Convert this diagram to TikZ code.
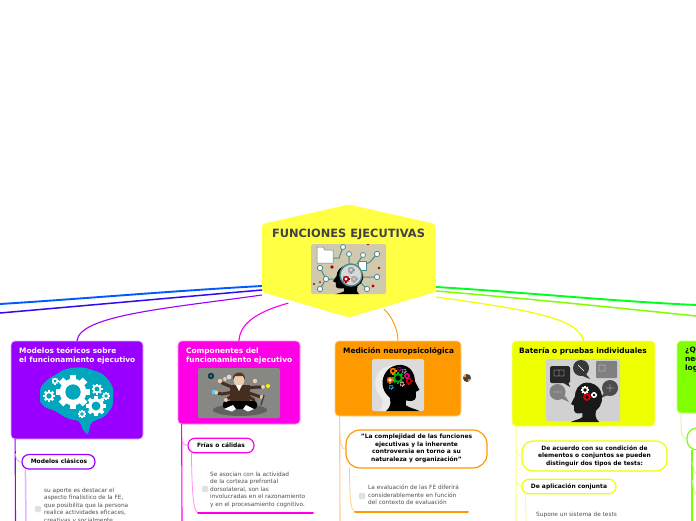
\documentclass[tikz,border=0pt]{standalone}
\usepackage{fontspec}
\setmainfont{DejaVu Sans}
\definecolor{cPur}{HTML}{9900FF}
\definecolor{cPurL}{HTML}{E0B8FF}
\definecolor{cMag}{HTML}{FF00E6}
\definecolor{cMagL}{HTML}{FF90F2}
\definecolor{cOra}{HTML}{FF9900}
\definecolor{cOraL}{HTML}{FFCF88}
\definecolor{cYel}{HTML}{EEFF00}
\definecolor{cYelL}{HTML}{F8FF88}
\definecolor{cLim}{HTML}{80FF00}
\definecolor{cLimL}{HTML}{C4FF88}
\definecolor{cHub}{HTML}{FFFF44}
\definecolor{cTxt}{HTML}{505050}
\definecolor{cTeal}{HTML}{00A5BE}
\definecolor{cTeal2}{HTML}{4E8A8E}
\definecolor{cBlu}{HTML}{005AFF}
\definecolor{cInd}{HTML}{320AF0}
\definecolor{cGrn}{HTML}{00FF1E}
\definecolor{cBrn}{HTML}{462D20}
\definecolor{cSkin}{HTML}{EBCDAF}
\definecolor{cHair}{HTML}{5A3723}
\definecolor{cTan}{HTML}{D0C9AE}
\definecolor{cGreyA}{HTML}{878784}
\definecolor{cTitle}{HTML}{424246}
\definecolor{cDkT}{HTML}{143C46}
\tikzset{
 mainbox/.style={rectangle,rounded corners=4pt,inner sep=0pt,line width=.7pt},
 subbox/.style={rectangle,rounded corners=7pt,inner sep=0pt,fill=white,line width=1.2pt},
 headtxt/.style={inner sep=0pt,anchor=north west,align=left,font=\bfseries\fontsize{7.4}{9.1}\selectfont},
 subtxt/.style={inner sep=0pt,align=center,font=\bfseries\fontsize{5.95}{7.5}\selectfont,text=black},
 bodytxt/.style={inner sep=0pt,anchor=north west,align=left,font=\fontsize{5.8}{7.35}\selectfont,text=cTxt},
 chk/.style={rectangle,rounded corners=1.2pt,minimum size=6pt,inner sep=0pt,fill=black!12,draw=black!8},
 imgbox/.style={rectangle,rounded corners=1.5pt,inner sep=0pt},
 link/.style={line cap=round}
}
\newcommand{\gearat}[5]{%
 \foreach \a in {0,45,...,315}{\draw[#4,line width={#3*0.38pt}] (#1,#2) -- ++(\a:#3);}
 \fill[#4] (#1,#2) circle[radius=#3*0.78];
 \fill[#5] (#1,#2) circle[radius=#3*0.45];}
\newcommand{\headfill}[1]{\fill[#1] (18,100) .. controls (30,90) and (28,82) .. (26,72) .. controls (10,60) and (6,40) .. (14,25) .. controls (22,8) and (40,3) .. (52,4) .. controls (72,6) and (82,22) .. (82,38) -- (92,56) -- (84,60) -- (84,72) .. controls (82,80) and (72,80) .. (62,78) -- (62,88) .. controls (70,94) and (85,96) .. (92,100) -- cycle;}
\begin{document}
\begin{tikzpicture}[x=1pt,y=-1pt]
\useasboundingbox (0,0) rectangle (696,520);
\clip (0,0) rectangle (696,520);
\fill[white] (0,0) rectangle (696,520);
% nodes used as connector ends
\node[minimum width=174pt,minimum height=112pt,inner sep=0pt] (hub) at (349,261) {};
\node[mainbox,fill=cPur,draw=cPurL,minimum width=132pt,minimum height=98pt] (b1) at (77,390) {};
\node[mainbox,fill=cMag,draw=cMagL,minimum width=122pt,minimum height=83pt] (b2) at (239,382.5) {};
\node[mainbox,fill=cOra,draw=cOraL,minimum width=126pt,minimum height=75pt] (b3) at (398,378.5) {};
\node[mainbox,fill=cYel,draw=cYelL,minimum width=143pt,minimum height=85pt] (b4) at (583.5,383.5) {};
\node[mainbox,fill=cLim,draw=cLimL,minimum width=60pt,minimum height=72pt] (b5) at (707,377) {};
\coordinate (offA) at (0,304);
\coordinate (offB) at (0,313);
\coordinate (offC) at (696,305);
\coordinate (offD) at (696,316);
\coordinate (tr1) at (15.5,522);
\coordinate (tr2) at (182,522);
\coordinate (tr3) at (340,522);
\coordinate (tr4) at (516,522);
\coordinate (tr5) at (692,522);
% hub connectors
\draw[link,draw=cBlu,line width=1.9pt] ([yshift=-25pt]hub.west) .. controls (170,291) and (80,299) .. (offA);
\draw[link,draw=cInd,line width=1.5pt] ([yshift=-29pt]hub.west) .. controls (170,298) and (80,306) .. (offB);
\draw[link,draw=cPur,line width=1.1pt] ([yshift=-34pt]hub.west) .. controls (170,308) and (80,315) .. (b1.north);
\draw[link,draw=cMag,line width=1.1pt] ([xshift=-61pt,yshift=14pt]hub.south) .. controls (260,311) and (240,322) .. (b2.north);
\draw[link,draw=cOra,line width=.9pt] ([xshift=35pt,yshift=8pt]hub.south) .. controls (392,316) and (398,330) .. (b3.north);
\draw[link,draw=cYel,line width=1.2pt] ([yshift=-36pt]hub.east) .. controls (530,310) and (578,318) .. (b4.north);
\draw[link,draw=cGrn,line width=1.9pt] ([yshift=-26pt]hub.east) .. controls (520,292) and (610,301) .. (offC);
\draw[link,draw=cLim,line width=1.5pt] ([yshift=-30pt]hub.east) .. controls (520,298) and (610,307) .. (offD);
% hub
\fill[cHub,rounded corners=3pt] (349,204.5) -- (262,224) -- (262,292) -- (349,317.5) -- (435.5,292) -- (435.5,224) -- cycle;
\node[inner sep=0pt,font=\bfseries\fontsize{11.4}{13}\selectfont,text=cTitle] (title) at (348.5,234) {FUNCIONES EJECUTIVAS};
% hub image
\node[imgbox,fill=cTan,minimum width=75pt,minimum height=50pt] (im0) at (348.5,269) {};
\begin{scope}
 \clip[rounded corners=1.5pt] (311,244) rectangle (386,294);
 \draw[cTeal2,line width=1pt] (333,258)--(339,258)--(343,247) (349,254)--(349,264) (363,255)--(357,264) (377,254)--(370,262)--(362,266) (377,277)--(362,277) (367,289)--(360,282) (320,268)--(326,279)--(340,279) (320,289)--(326,279);
 \begin{scope}[shift={(367,264)},xscale=-.37,yscale=.31]
  \headfill{black}
 \end{scope}
 \fill[white,draw=cTeal2,line width=.5pt] (317,251) -- (317,247) -- (323,247) -- (325,250) -- (333,250) -- (333,263) -- (317,263) -- cycle;
 \fill[white,draw=cTeal2,line width=.7pt] (358,261) rectangle (366,270);
 \foreach \p/\r in {{343,247}/2.5,{349,254}/2.5,{363,255}/2.5,{377,254}/2.7,{377,277}/2.7,{367,289}/2.7,{320,268}/2.7,{326,279}/2.7,{320,289}/2.7}{\fill[white,draw=cTeal2,line width=.8pt] (\p) circle[radius=\r];}
 \fill[white!85!black,draw=cTeal2,line width=1.5pt] (351,275) circle[radius=11];
 \gearat{346}{279}{3.5}{red!65!black}{white}
 \gearat{354}{279}{3.5}{black!35}{white!80!black}
 \gearat{351}{270}{3.5}{black!40}{white!85!black}
 \fill[red!70!black] (332,267) circle[radius=1.8] (314,284) circle[radius=1.2] (320,282) circle[radius=1] (373,286) circle[radius=1.6] (368,244) circle[radius=1.4] (379,268) circle[radius=1.4];
\end{scope}
% box 1
\node[headtxt,text=white] (t1) at (19,347.5) {Modelos teóricos sobre\\el funcionamiento ejecutivo};
\fill[cTeal,rounded corners=5pt] (40,396) .. controls (40,384) and (50,378) .. (57,374) .. controls (66,368) and (80,366) .. (92,370) .. controls (106,374) and (114,386) .. (113,397) .. controls (113,408) and (106,417) .. (95,420) -- (89,424) -- (90,434) -- (85,434) .. controls (82,428) and (81,424) .. (80,420) .. controls (68,420) and (60,414) .. (54,410) .. controls (44,408) and (40,402) .. (40,396) -- cycle;
\gearat{73}{392}{17}{white}{cTeal}
\gearat{96}{406}{10}{white}{cTeal}
\gearat{49}{396}{6}{white}{cTeal}
\gearat{97}{389}{5.5}{white}{cTeal}
\gearat{106}{396}{4}{white}{cTeal}
\gearat{82}{414}{4}{white}{cTeal}
\gearat{55}{381}{3.5}{white}{cTeal}
\node[subbox,draw=cPur,minimum width=73pt,minimum height=14.5pt] (s1) at (58.5,461.8) {};
\node[subtxt] (s1t) at (59,461.5) {Modelos clásicos};
\draw[link,draw=cPur,line width=1.1pt] ([xshift=4.5pt]b1.south west) -- (tr1);
\draw[link,draw=cPurL,line width=.8pt] (15.5,454) .. controls (16,460) and (18,462) .. (s1.west);
\draw[draw=cPurL,line width=1.5pt] ([xshift=4pt]s1.south west) -- (26,522);
\node[chk] (c1) at (38,509) {};
\node[bodytxt] (x1) at (44,488) {su aporte es destacar el\\aspecto finalístico de la FE,\\que posibilita que la persona\\realice actividades eficaces,\\creativas y socialmente};
% box 2
\node[headtxt,text=white] (t2) at (186,347.5) {Componentes del\\funcionamiento ejecutivo};
\node[imgbox,fill=cGreyA,minimum width=82pt,minimum height=50pt] (im2) at (239,393) {};
\fill[black!62] (240,410) ellipse[x radius=27,y radius=6];
\draw[line width=3pt,draw=cBrn,line cap=round] (234,388) -- (222,383) (234,392) -- (222,394) -- (217,393) (234,394) -- (226,400) (246,388) -- (258,387) -- (264,387) (246,392) -- (258,396) -- (261,397) (246,395) -- (254,400);
\fill[cBrn] (230,385) rectangle (250,402);
\fill[black,rounded corners=3pt] (223,401) rectangle (257,409);
\fill[white] (224,409) -- (233,405) -- (236,409) -- (232,411.5) -- cycle (254,409) -- (246,405) -- (243,409) -- (248,411.5) -- cycle;
\fill[cSkin] (239,380) ellipse[x radius=5.5,y radius=6.5];
\fill[cHair] (233,380) .. controls (231,371) and (246,369) .. (245,380) -- (243,376) -- (235,376) -- cycle;
\fill[white] (236,385) -- (242,385) -- (239,391) -- cycle;
\fill[cSkin] (220,381) circle[radius=2.2] (216,392.5) circle[radius=2.2] (225,379) circle[radius=2] (263,387) circle[radius=2] (255,381) circle[radius=2.2] (262,397) circle[radius=2.2] (226,400) circle[radius=2];
\fill[cDkT] (211,376) circle[radius=3.3];
\fill[cTeal] (211,376) circle[radius=1.2];
\fill[white!85!black,draw=black!60,line width=.4pt] (229,377) circle[radius=3];
\fill[yellow] (268,386) circle[radius=2];
\fill[cyan!60] (212,390) rectangle (215,394);
\draw[black!75,line width=1.4pt] (261,405) -- (264,395);
\node[subbox,draw=cMag,minimum width=66pt,minimum height=14.5pt] (s2) at (221,445.5) {};
\node[subtxt] (s2t) at (221,445.3) {Frías o cálidas};
\draw[link,draw=cMag,line width=1.1pt] ([xshift=4pt]b2.south west) -- (tr2);
\draw[link,draw=cMagL,line width=.8pt] (182,440) .. controls (183,444) and (185,445.5) .. (s2.west);
\draw[link,draw=cMagL,line width=.8pt] ([xshift=4pt]s2.south west) .. controls (192,490) and (193,512) .. (198,512.5);
\draw[link,draw=cMag,line width=2pt] (198,512.5) -- (313,512.5);
\node[chk] (c2) at (205,489) {};
\node[bodytxt] (x2) at (210,472) {Se asocian con la actividad\\de la corteza prefrontal\\dorsolateral, son las\\involucradas en el razonamiento\\y en el procesamiento cognitivo.};
% box 3
\node[headtxt,text=black] (t3) at (343,347) {Medición neuropsicológica};
\node[imgbox,fill=black!14,minimum width=52pt,minimum height=52pt] (im3) at (398,385) {};
\begin{scope}
 \clip[rounded corners=1.5pt] (372,359) rectangle (424,411);
 \begin{scope}[shift={(371,364)},xscale=.42,yscale=.47]
  \headfill{white!92!black}
 \end{scope}
 \begin{scope}[shift={(378,363)},xscale=.45,yscale=.48]
  \headfill{black}
 \end{scope}
 \gearat{398}{378}{6}{green!70!black}{black}
 \gearat{393}{371}{3.5}{orange}{black}
 \gearat{409}{381}{3.5}{red!80!black}{black}
 \gearat{399}{369}{2.5}{violet}{black}
 \gearat{407}{376}{3}{magenta}{black}
 \gearat{390}{380}{3.5}{orange!80!red}{white}
 \gearat{391}{387}{2.5}{cyan!80!blue}{black}
 \gearat{404}{371}{2.5}{black!50}{black}
 \gearat{402}{384}{2.5}{pink!80!black}{black}
\end{scope}
\node[fill=black!75,circle,minimum size=8pt,inner sep=0pt] (gl) at (467,378) {};
\fill[cOra] (465,376) circle[radius=1.6] (469,380) circle[radius=1.4];
\node[subbox,rounded corners=14pt,draw=cOra,minimum width=141pt,minimum height=38pt] (s3) at (416.5,449) {};
\node[subtxt] (s3t) at (416.5,448.5) {"La complejidad de las funciones\\ejecutivas y la inherente\\controversia en torno a su\\naturaleza y organización"};
\draw[link,draw=cOraL,line width=1.1pt] ([xshift=5pt]b3.south west) -- (tr3);
\draw[link,draw=cOraL,line width=.8pt] (340,438) .. controls (341,446) and (342,449) .. (s3.west);
\draw[link,draw=cOraL,line width=.8pt] (349.5,468) .. controls (349.5,490) and (350,511.5) .. (355,511.5);
\draw[link,draw=cOra,line width=2pt] (355,511.5) -- (468,511.5);
\node[chk] (c3) at (362,496) {};
\node[bodytxt] (x3) at (368,485) {La evaluación de las FE diferirá\\considerablemente en función\\del contexto de evaluación};
% box 4
\node[headtxt,text=black] (t4) at (519,347) {Batería o pruebas individuales};
\node[imgbox,fill=black!18,minimum width=74pt,minimum height=62pt] (im4) at (583,390) {};
\fill[black!85,rounded corners=1.5pt] (550,366) rectangle (570,383);
\fill[black!85] (562,382) -- (568,382) -- (570,387) -- cycle;
\fill[black!78] (581,368) circle[radius=8];
\fill[black!78] (578,374) -- (586,374) -- (590,379) -- cycle;
\fill[black!50,rounded corners=1pt] (596,361) rectangle (617,378);
\fill[black!50] (557.5,392) circle[radius=8];
\fill[black!50] (560,398) -- (565,396) -- (569,402) -- cycle;
\fill[black!70] (610,388) circle[radius=8];
\fill[black!70] (604,392) -- (608,395) -- (601,398) -- cycle;
\draw[white,line width=.4pt] (554,370) rectangle (559,376) (559,370) rectangle (564,376) (578,365) -- (584,371) (599,365) rectangle (605,371) (553,392) -- (562,392) (606,388) -- (614,388) (610,384) -- (610,392);
\begin{scope}[shift={(606,381)},xscale=-.38,yscale=.41]
 \headfill{black!90}
\end{scope}
\gearat{585}{390}{4}{white}{black}
\gearat{587}{397}{4}{red!85!black}{black}
\gearat{594}{395}{3}{white}{black}
\node[subbox,rounded corners=11pt,draw=cYel,minimum width=145pt,minimum height=30pt] (s4) at (594.5,456) {};
\node[subtxt] (s4t) at (594.5,456) {De acuerdo con su condición de\\elementos o conjuntos se pueden\\distinguir dos tipos de tests:};
\node[subbox,draw=cYel,minimum width=94pt,minimum height=14.5pt] (s5) at (569,486.5) {};
\node[subtxt] (s5t) at (569,486.3) {De aplicación conjunta};
\draw[link,draw=cYelL,line width=1.1pt] ([xshift=4.5pt]b4.south west) -- (tr4);
\draw[link,draw=cYelL,line width=.8pt] (516,448) .. controls (517,454) and (518,456) .. (s4.west);
\draw[link,draw=cYelL,line width=.8pt] (516,480) .. controls (517,484) and (518,486.5) .. (s5.west);
\draw[draw=cYelL,line width=1pt] ([xshift=4pt]s5.south west) -- (526,522);
\node[bodytxt] (x5) at (536,512) {Supone un sistema de tests};
% box 5
\node[headtxt,text=black] (t5) at (685,347) {¿Q\\nec\\log};
\node[subbox,rounded corners=10pt,draw=cLim,minimum width=40pt,minimum height=22pt] (s6) at (707,439) {};
\draw[link,draw=cLimL,line width=.8pt] (681,413.5) .. controls (681,430) and (681,438) .. (s6.west);
\draw[draw=cLim,line width=1.8pt] (692,450) -- (tr5);
\draw[draw=cLimL,line width=.8pt] (692.5,462) .. controls (693,470) and (695,473) .. (697,474) (692.5,480) .. controls (693,490) and (695,494) .. (697,495);
\end{tikzpicture}
\end{document}
